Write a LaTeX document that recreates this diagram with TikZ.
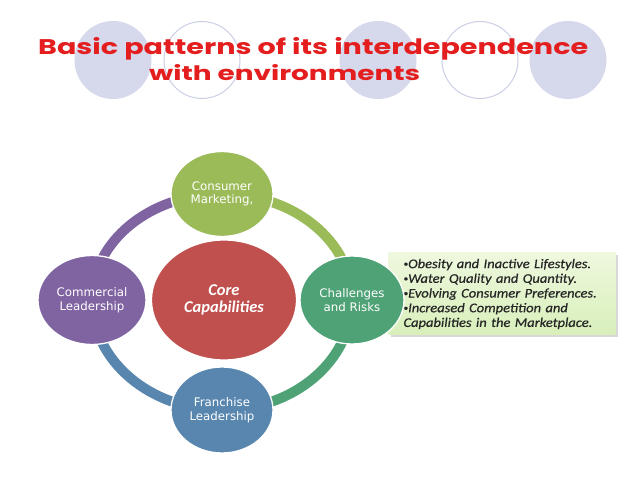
\documentclass[tikz,border=0pt]{standalone}
\usepackage{fontspec}
\setmainfont{Carlito}
\newfontfamily\labelfont{DejaVu Sans}
\newfontfamily\titlefont{Poppins}
\newfontfamily\boxfont{Carlito}[FakeStretch=1.1, FakeBold=0.6]
\usetikzlibrary{shapes.geometric,shadows,backgrounds}
\definecolor{titleRed}{HTML}{E41E1E}
\definecolor{bgLav}{HTML}{D6D8EC}
\definecolor{bgLavLine}{HTML}{CBCFE5}
\definecolor{cmGreen}{HTML}{9BBB59}
\definecolor{clPurple}{HTML}{8064A2}
\definecolor{coreRed}{HTML}{C0504D}
\definecolor{crGreen}{HTML}{4FA276}
\definecolor{flBlue}{HTML}{5886AE}
\definecolor{boxTop}{HTML}{EEF8DE}
\definecolor{boxBot}{HTML}{D8EFBA}
\definecolor{boxText}{HTML}{262626}
\newcommand\boxbul{{\fontsize{8.5}{8.5}\selectfont\raisebox{1.5pt}{•}}}
\tikzset{
  bgfilled/.style={ellipse, inner sep=0pt, minimum width=77pt, minimum height=78pt, fill=bgLav},
  bgopen/.style={ellipse, inner sep=0pt, minimum width=76pt, minimum height=77pt, draw=bgLavLine, line width=1pt},
  titletext/.style={anchor=base west, inner sep=0pt, text=titleRed},
  capnode/.style={ellipse, inner sep=0pt, draw=white, line width=1.3pt, text=white,
    align=center, font=\labelfont\fontsize{11.8}{14}\selectfont},
  ringarc/.style={line width=10pt},
  infobox/.style={rectangle, inner xsep=15pt, inner ysep=0pt, text width=197pt, minimum height=82pt,
    top color=boxTop, bottom color=boxBot, draw=none,
    drop shadow={opacity=0.3, shadow xshift=2pt, shadow yshift=-2pt},
    align=left, text=boxText, font=\boxfont\itshape\fontsize{13.2}{14.7}\selectfont}
}
\begin{document}
\begin{tikzpicture}[x=1pt,y=-1pt]
\useasboundingbox (0,0) rectangle (638,478);
% decorative background circles
\node[bgfilled] (bg1) at (113,60) {};
\node[bgopen]   (bg2) at (202,60) {};
\node[bgfilled] (bg3) at (378,60) {};
\node[bgopen]   (bg4) at (480,60) {};
\node[bgfilled] (bg5) at (568,60) {};
% title
\node[titletext] (title1) at (38,55) {\resizebox{550pt}{17pt}{\titlefont\bfseries Basic patterns of its interdependence}};
\node[titletext] (title2) at (149,81) {\resizebox{271pt}{16pt}{\titlefont\bfseries with environments}};
% info box
\node[infobox] (box) at (502,294) {%
\boxbul Obesity and Inactive Lifestyles.\\
\boxbul Water Quality and Quantity.\\
\boxbul Evolving Consumer Preferences.\\
\boxbul Increased Competition and\\
Capabilities in the Marketplace.};
% circles
\node[capnode, fill=cmGreen, minimum width=102pt, minimum height=85pt] (cm) at (222,194) {\raisebox{4pt}{\begin{tabular}{@{}c@{}}Consumer\\[-1pt]Marketing,\end{tabular}}};
\node[capnode, fill=clPurple, minimum width=108pt, minimum height=89pt] (cl) at (92,300) {Commercial\\Leadership};
\node[capnode, fill=coreRed, minimum width=145pt, minimum height=120pt,
      font=\bfseries\itshape\fontsize{16.5}{16.5}\selectfont] (core) at (224,300) {Core\\Capabilities};
\node[capnode, fill=crGreen, minimum width=104pt, minimum height=88pt] (cr) at (352,300) {Challenges\\and Risks};
\node[capnode, fill=flBlue, minimum width=102pt, minimum height=86pt] (fl) at (222,410) {Franchise\\Leadership};
% ring connectors and page background
\begin{pgfonlayer}{background}
\fill[white] (0,0) rectangle (638,478);
\draw[ringarc, clPurple] (cl.center) .. controls +(0,-58.5) and +(-71.8,0) .. (cm.center);
\draw[ringarc, cmGreen] (cm.center) .. controls +(71.8,0) and +(0,-58.5) .. (cr.center);
\draw[ringarc, crGreen] (cr.center) .. controls +(0,60.7) and +(71.8,0) .. (fl.center);
\draw[ringarc, flBlue] (fl.center) .. controls +(-71.8,0) and +(0,60.7) .. (cl.center);
\end{pgfonlayer}
\end{tikzpicture}
\end{document}
